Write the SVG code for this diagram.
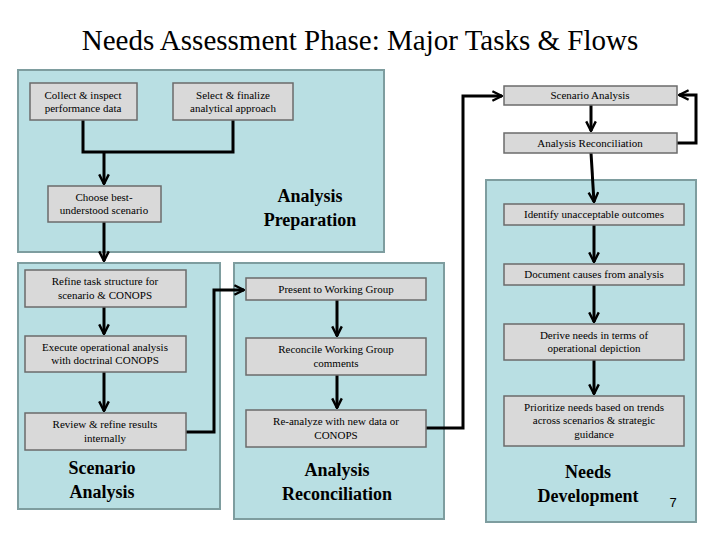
<svg xmlns="http://www.w3.org/2000/svg" width="720" height="540" viewBox="0 0 720 540">
<style>
.panel{fill:#b9dfe3;stroke:#7e9d9f;stroke-width:2}
.box{fill:#d9d9d9;stroke:#6b6b6b;stroke-width:1.5}
.t{font-family:'Liberation Serif','Times New Roman','DejaVu Serif',serif;font-size:11px;fill:#000;text-anchor:middle}
.h{font-family:'Liberation Serif','Times New Roman','DejaVu Serif',serif;font-size:18px;font-weight:bold;fill:#000;text-anchor:middle}
.ti{font-family:'Liberation Serif','Times New Roman','DejaVu Serif',serif;font-size:29px;fill:#000;text-anchor:middle}
.c{fill:none;stroke:#000;stroke-width:3}
</style>
<defs>
<marker id="a" viewBox="0 0 10 10" refX="9" refY="5" markerWidth="4" markerHeight="4" orient="auto" markerUnits="strokeWidth">
<path d="M1,1 L9,5 L1,9" fill="none" stroke="#000" stroke-width="2"/>
</marker>
</defs>
<rect width="720" height="540" fill="#fff"/>
<text class="ti" x="360" y="50">Needs Assessment Phase:  Major Tasks &amp; Flows</text>
<g id="panels">
<rect class="panel" x="18" y="70" width="366" height="182"/>
<rect class="panel" x="18" y="263" width="202" height="246"/>
<rect class="panel" x="234" y="263" width="210" height="256"/>
<rect class="panel" x="486" y="180" width="210" height="342"/>
<text class="h" x="310" y="202">Analysis</text><text class="h" x="310" y="226">Preparation</text>
<text class="h" x="102" y="474">Scenario</text><text class="h" x="102" y="498">Analysis</text>
<text class="h" x="337" y="476">Analysis</text><text class="h" x="337" y="500">Reconciliation</text>
<text class="h" x="588" y="478">Needs</text><text class="h" x="588" y="502">Development</text>
</g>
<g id="connectors">
<path class="c" d="M83,120 V152 H233 V120"/>
<path class="c" d="M104,152 V184" marker-end="url(#a)"/>
<path class="c" d="M104,222 V261" marker-end="url(#a)"/>
<path class="c" d="M104,307 V334" marker-end="url(#a)"/>
<path class="c" d="M104,372 V411" marker-end="url(#a)"/>
<path class="c" d="M186,432 H214 V290 H244" marker-end="url(#a)"/>
<path class="c" d="M337,300 V336" marker-end="url(#a)"/>
<path class="c" d="M337,375 V408" marker-end="url(#a)"/>
<path class="c" d="M426,428 H463 V96 H502" marker-end="url(#a)"/>
<path class="c" d="M591,105 V131" marker-end="url(#a)"/>
<path class="c" d="M677,143 H696 V95 H679" marker-end="url(#a)"/>
<path class="c" d="M591,153 L594,202" marker-end="url(#a)"/>
<path class="c" d="M594,225 V262" marker-end="url(#a)"/>
<path class="c" d="M594,285 V322" marker-end="url(#a)"/>
<path class="c" d="M594,360 V394" marker-end="url(#a)"/>
</g>
<g id="n1"><rect class="box" x="30" y="83" width="107" height="37"/><text class="t" x="83" y="99">Collect &amp; inspect</text><text class="t" x="83" y="112">performance data</text></g>
<g id="n2"><rect class="box" x="173" y="83" width="120" height="37"/><text class="t" x="233" y="99">Select &amp; finalize</text><text class="t" x="233" y="112">analytical approach</text></g>
<g id="n3"><rect class="box" x="48" y="186" width="113" height="36"/><text class="t" x="104" y="201">Choose best-</text><text class="t" x="104" y="214">understood scenario</text></g>
<g id="n4"><rect class="box" x="25" y="270" width="161" height="37"/><text class="t" x="105" y="285">Refine task structure for</text><text class="t" x="105" y="299">scenario &amp; CONOPS</text></g>
<g id="n5"><rect class="box" x="25" y="336" width="161" height="36"/><text class="t" x="105" y="351">Execute operational analysis</text><text class="t" x="105" y="364">with doctrinal CONOPS</text></g>
<g id="n6"><rect class="box" x="25" y="413" width="161" height="37"/><text class="t" x="105" y="428">Review &amp; refine results</text><text class="t" x="105" y="442">internally</text></g>
<g id="n7"><rect class="box" x="246" y="278" width="180" height="22"/><text class="t" x="336" y="293">Present to Working  Group</text></g>
<g id="n8"><rect class="box" x="246" y="338" width="180" height="37"/><text class="t" x="336" y="353">Reconcile Working Group</text><text class="t" x="336" y="367">comments</text></g>
<g id="n9"><rect class="box" x="246" y="410" width="180" height="37"/><text class="t" x="336" y="425">Re-analyze with new data or</text><text class="t" x="336" y="439">CONOPS</text></g>
<g id="n10"><rect class="box" x="504" y="86" width="173" height="19"/><text class="t" x="590" y="99">Scenario Analysis</text></g>
<g id="n11"><rect class="box" x="504" y="133" width="173" height="20"/><text class="t" x="590" y="147">Analysis Reconciliation</text></g>
<g id="n12"><rect class="box" x="504" y="204" width="180" height="21"/><text class="t" x="594" y="218">Identify unacceptable outcomes</text></g>
<g id="n13"><rect class="box" x="504" y="264" width="180" height="21"/><text class="t" x="594" y="278">Document causes from analysis</text></g>
<g id="n14"><rect class="box" x="504" y="324" width="180" height="36"/><text class="t" x="594" y="339">Derive needs in terms of</text><text class="t" x="594" y="352">operational depiction</text></g>
<g id="n15"><rect class="box" x="504" y="396" width="180" height="50"/><text class="t" x="594" y="411">Prioritize needs based on trends</text><text class="t" x="594" y="424">across scenarios &amp; strategic</text><text class="t" x="594" y="438">guidance</text></g>
<text x="673" y="507" font-family="'Liberation Sans',Arial,sans-serif" font-size="13" text-anchor="middle">7</text>
</svg>
